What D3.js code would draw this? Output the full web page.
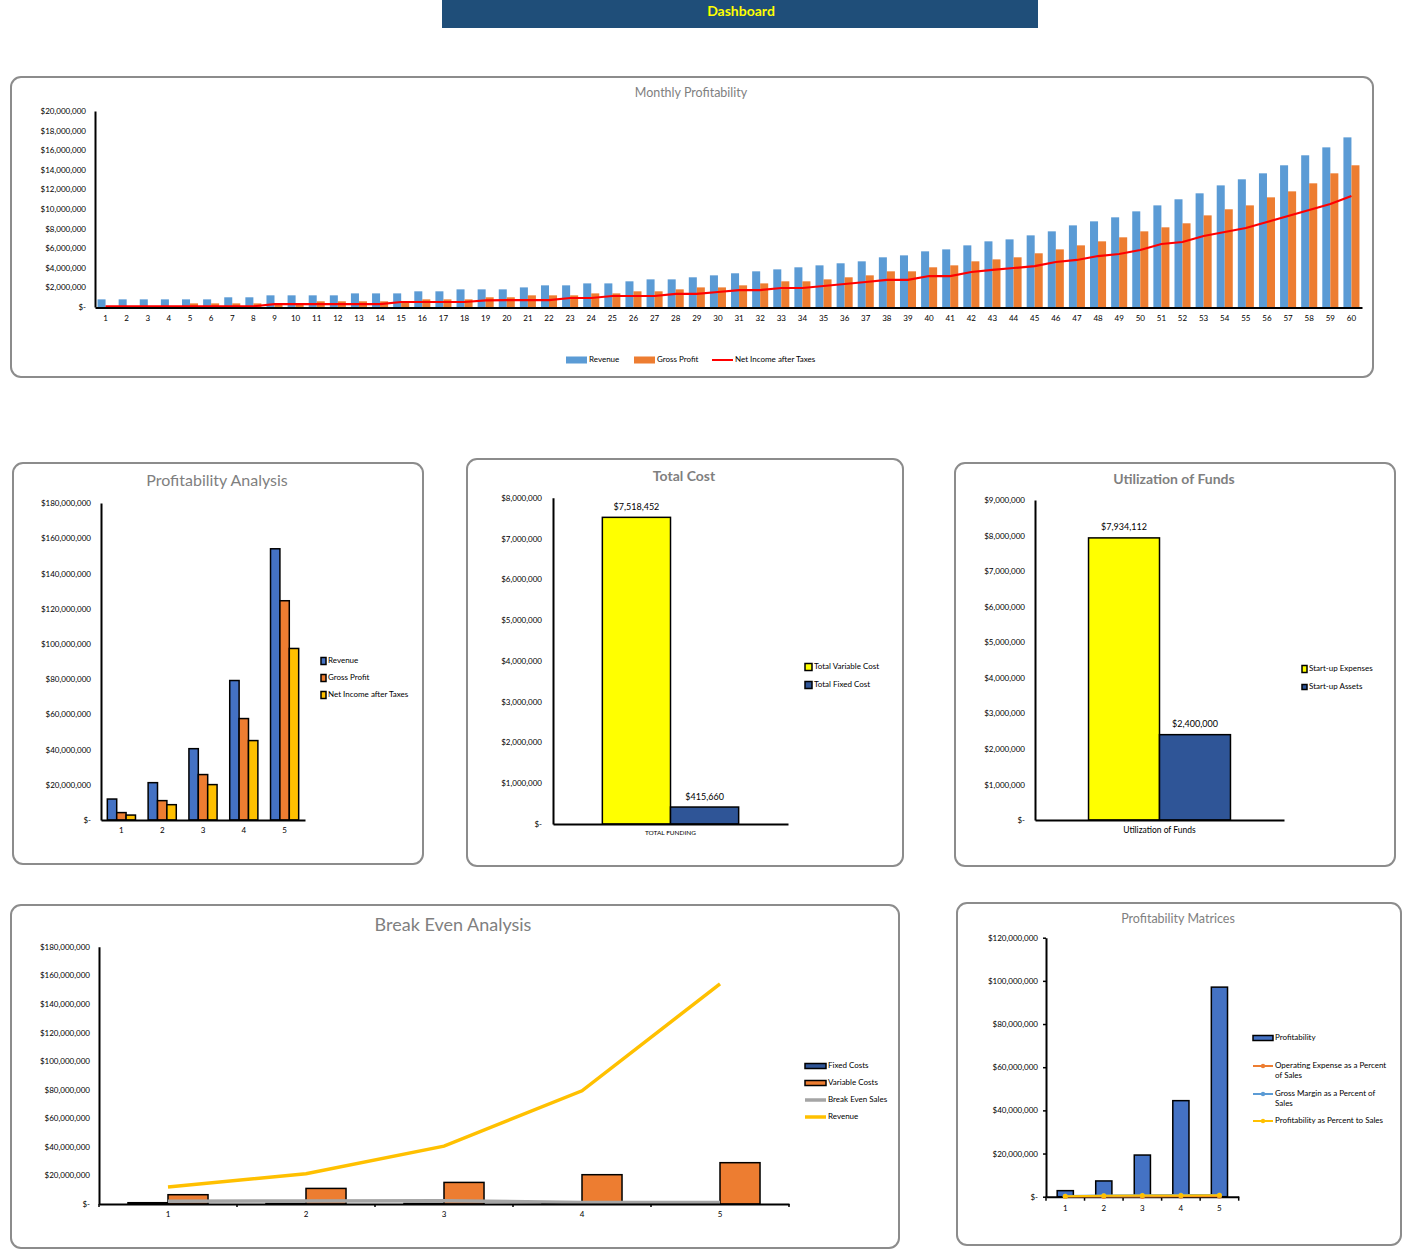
<!DOCTYPE html>
<meta charset="utf-8">
<style>
  body { margin: 0; background: #fff; }
  svg { display: block; font-family: Lato, 'Open Sans', sans-serif; }
  .panel { fill: #fff; stroke: #8c8c8c; stroke-width: 2; }
  .title { fill: #7f7f7f; text-anchor: middle; }
  .axis .domain { stroke: #000; stroke-width: 2; }
  .axis line { stroke: #000; stroke-width: 1.5; }
  .axis text { fill: #000; font-family: Lato, sans-serif; }
  .legend text { fill: #000; font-size: 8px; }
  .lbl { fill: #000; font-size: 9px; text-anchor: middle; }
</style>
<svg width="1408" height="1256"></svg>
<script src="https://d3js.org/d3.v7.min.js"></script>
<script>

// ---- data (money in $ millions) ----
var months = d3.range(1, 61);

var monthlyRevenue = [0.78,0.78,0.78,0.78,0.78,0.78,0.99,0.99,1.19,1.19,1.19,1.19,1.39,1.39,1.39,1.6,1.6,1.8,
  1.8,1.8,2.0,2.21,2.21,2.41,2.41,2.62,2.82,2.82,3.03,3.23,3.44,3.64,3.84,4.05,4.25,4.46,4.66,5.07,5.27,5.68,
  5.88,6.29,6.70,6.90,7.31,7.72,8.33,8.74,9.15,9.76,10.37,10.99,11.6,12.41,13.03,13.64,14.46,15.48,16.29,17.31];
var monthlyGross = [0.05,0.05,0.05,0.05,0.37,0.37,0.37,0.37,0.37,0.37,0.58,0.58,0.58,0.58,0.58,0.78,0.78,0.78,
  0.99,0.99,1.19,1.19,1.19,1.39,1.39,1.6,1.6,1.8,2.0,2.0,2.21,2.41,2.62,2.62,2.82,3.03,3.23,3.64,3.64,4.05,
  4.25,4.66,4.86,5.07,5.48,5.88,6.29,6.70,7.11,7.72,8.13,8.54,9.35,9.97,10.37,11.19,11.8,12.62,13.64,14.46];
var monthlyNet = [0.07,0.07,0.07,0.07,0.07,0.07,0.07,0.07,0.3,0.3,0.3,0.3,0.3,0.3,0.51,0.51,0.51,0.51,
  0.68,0.71,0.71,0.71,0.92,0.92,1.12,1.12,1.12,1.33,1.33,1.53,1.73,1.73,1.94,1.94,2.14,2.35,2.55,2.76,2.76,3.16,
  3.16,3.57,3.78,3.98,4.18,4.59,4.80,5.20,5.41,5.82,6.43,6.63,7.25,7.65,8.06,8.67,9.29,9.9,10.51,11.33];

var years = [1, 2, 3, 4, 5];
var yearRevenue = [11.9, 21.2, 40.5, 79.2, 154.0];
var yearGross = [4.2, 11.0, 25.8, 57.6, 124.5];
var yearNet = [2.8, 8.7, 20.1, 45.1, 97.4];

var costCategory = ["TOTAL FUNDING"];
var totalVariableCost = [7.518452];
var totalFixedCost = [0.41566];

var fundsCategory = ["Utilization of Funds"];
var startupExpenses = [7.934112];
var startupAssets = [2.4];

var fixedCosts = [0.9, 0.4, 0.4, 0.4, 0.4];
var variableCosts = [6.5, 10.9, 15.1, 20.5, 28.9];
var breakEvenSales = [1.9, 2.1, 2.3, 1.1, 1.0];

var profitability = [2.8, 7.3, 19.3, 44.5, 97.1];
var opExPct = [0.11, 0.11, 0.14, 0.16, 0.18];
var grossMarginPct = [0.35, 0.52, 0.64, 0.73, 0.81];
var profitPct = [0.24, 0.41, 0.50, 0.57, 0.63];

// ---- helpers ----
var svg = d3.select("svg");
svg.append("rect").attr("width", 1408).attr("height", 1256).attr("fill", "#fff");

var money = function(m) { return m === 0 ? "$-" : "$" + d3.format(",")(Math.round(m * 1e6)); };

function panel(x, y, w, h) {
    svg.append("rect").attr("class", "panel")
        .attr("x", x).attr("y", y).attr("width", w).attr("height", h).attr("rx", 10);
}

function title(text, x, y, size, weight) {
    svg.append("text").attr("class", "title")
        .attr("x", x).attr("y", y).attr("dominant-baseline", "middle")
        .style("font-size", size + "px").style("font-weight", weight || "normal")
        .text(text);
}

function yAxis(y, x, ticks, size, pad, tick) {
    var g = svg.append("g").attr("class", "axis")
        .attr("transform", "translate(" + x + ",0)")
        .call(d3.axisLeft(y).tickValues(ticks).tickSize(tick || 0).tickSizeOuter(0)
            .tickPadding(pad).tickFormat(money));
    g.selectAll("text").style("font-size", size + "px");
    return g;
}

function xAxis(x, y, size, pad) {
    var g = svg.append("g").attr("class", "axis")
        .attr("transform", "translate(0," + y + ")")
        .call(d3.axisBottom(x).tickSize(0).tickPadding(pad));
    g.selectAll("text").style("font-size", size + "px");
    return g;
}

function boundaryTicks(x, y, len) {
    var n = x.domain().length;
    svg.append("g").selectAll("line").data(d3.range(n + 1)).enter().append("line")
        .attr("x1", function(i) { return x.range()[0] + i * x.step(); })
        .attr("x2", function(i) { return x.range()[0] + i * x.step(); })
        .attr("y1", y).attr("y2", y + len)
        .attr("stroke", "#000").attr("stroke-width", 1.5);
}

function legend(items, x, size) {
    var g = svg.append("g").attr("class", "legend");
    items.forEach(function(it) {
        if (it.type === "rect") {
            g.append("rect").attr("x", x).attr("y", it.y - it.h / 2)
                .attr("width", it.w).attr("height", it.h)
                .attr("fill", it.color).attr("stroke", it.stroke || "none").attr("stroke-width", 1.5);
        } else {
            g.append("line").attr("x1", x).attr("x2", x + it.w).attr("y1", it.y).attr("y2", it.y)
                .attr("stroke", it.color).attr("stroke-width", it.sw || 2);
            if (it.marker) {
                g.append("circle").attr("cx", x + it.w / 2).attr("cy", it.y).attr("r", 2.2).attr("fill", it.color);
            }
        }
        var t = g.append("text").attr("x", x + it.w + 2).attr("y", it.y)
            .attr("dominant-baseline", "middle").style("font-size", size + "px");
        it.text.forEach(function(line, i) {
            t.append("tspan").attr("x", x + it.w + 2).attr("dy", i === 0 ? 0 : "1.25em").text(line);
        });
    });
}

// ---- header ----
svg.append("rect").attr("x", 442).attr("y", 0).attr("width", 596).attr("height", 28).attr("fill", "#1F4E79");
svg.append("text").attr("x", 741).attr("y", 12).attr("text-anchor", "middle").attr("dominant-baseline", "middle")
    .style("font-size", "14px").style("font-weight", "bold").attr("fill", "#FFFF00").text("Dashboard");

// ---- Monthly Profitability ----
(function() {
    panel(11, 77, 1362, 300);
    title("Monthly Profitability", 691, 94, 12.5);

    var x = d3.scaleBand().domain(months).range([95, 1362]);
    var y = d3.scaleLinear().domain([0, 20]).range([307, 111]);
    var gw = x.bandwidth() * 0.76;
    var x1 = d3.scaleBand().domain(["rev", "gp"]).range([-gw / 2, gw / 2]);

    var rows = months.map(function(m, i) {
        return { m: m, rev: monthlyRevenue[i], gp: monthlyGross[i], net: monthlyNet[i] };
    });
    var colors = { rev: "#5B9BD5", gp: "#ED7D31" };

    ["rev", "gp"].forEach(function(k) {
        svg.append("g").selectAll("rect").data(rows).enter().append("rect")
            .attr("x", function(d) { return x(d.m) + x.bandwidth() / 2 + x1(k); })
            .attr("width", x1.bandwidth())
            .attr("y", function(d) { return y(d[k]); })
            .attr("height", function(d) { return y(0) - y(d[k]); })
            .attr("fill", colors[k]);
    });

    svg.append("path").datum(rows)
        .attr("fill", "none").attr("stroke", "#FF0000").attr("stroke-width", 2.2)
        .attr("d", d3.line().x(function(d) { return x(d.m) + x.bandwidth() / 2; })
            .y(function(d) { return y(d.net); }));

    yAxis(y, 95, d3.range(0, 21, 2), 8, 9);
    xAxis(x, 307.5, 8, 8);

    legend([
        { type: "rect", y: 360, w: 21, h: 7, color: "#5B9BD5", text: ["Revenue"] }
    ], 566, 8);
    legend([
        { type: "rect", y: 360, w: 21, h: 7, color: "#ED7D31", text: ["Gross Profit"] }
    ], 634, 8);
    legend([
        { type: "line", y: 360, w: 21, color: "#FF0000", text: ["Net Income after Taxes"] }
    ], 712, 8);
})();

// ---- Profitability Analysis ----
(function() {
    panel(13, 463, 410, 401);
    title("Profitability Analysis", 217, 482, 16);

    var x = d3.scaleBand().domain(years).range([101, 305]);
    var y = d3.scaleLinear().domain([0, 180]).range([820, 503]);
    var keys = ["rev", "gp", "net"];
    var gw = x.bandwidth() * 0.69;
    var x1 = d3.scaleBand().domain(keys).range([-gw / 2, gw / 2]);
    var colors = { rev: "#4472C4", gp: "#ED7D31", net: "#FFC000" };
    var rows = years.map(function(yr, i) {
        return { yr: yr, rev: yearRevenue[i], gp: yearGross[i], net: yearNet[i] };
    });

    keys.forEach(function(k) {
        svg.append("g").selectAll("rect").data(rows).enter().append("rect")
            .attr("x", function(d) { return x(d.yr) + x.bandwidth() / 2 + x1(k); })
            .attr("width", x1.bandwidth())
            .attr("y", function(d) { return y(d[k]); })
            .attr("height", function(d) { return y(0) - y(d[k]); })
            .attr("fill", colors[k]).attr("stroke", "#000").attr("stroke-width", 1.5);
    });

    yAxis(y, 101, d3.range(0, 181, 20), 8, 10);
    xAxis(x, 820, 8, 7);

    legend([
        { type: "rect", y: 661, w: 5, h: 7, color: "#4472C4", stroke: "#000", text: ["Revenue"] },
        { type: "rect", y: 678, w: 5, h: 7, color: "#ED7D31", stroke: "#000", text: ["Gross Profit"] },
        { type: "rect", y: 695, w: 5, h: 7, color: "#FFC000", stroke: "#000", text: ["Net Income after Taxes"] }
    ], 321, 8);
})();

// ---- Total Cost ----
(function() {
    panel(467, 459, 436, 407);
    title("Total Cost", 684, 477, 14, "bold");

    var x = d3.scaleBand().domain(costCategory).range([553, 788]);
    var y = d3.scaleLinear().domain([0, 8]).range([824, 497.7]);
    var gw = x.bandwidth() * 0.58;
    var x1 = d3.scaleBand().domain(["var", "fix"]).range([-gw / 2, gw / 2]);
    var series = [
        { k: "var", vals: totalVariableCost, color: "#FFFF00" },
        { k: "fix", vals: totalFixedCost, color: "#2F5597" }
    ];
    series.forEach(function(s) {
        var g = svg.append("g");
        g.selectAll("rect").data(costCategory).enter().append("rect")
            .attr("x", function(c) { return x(c) + x.bandwidth() / 2 + x1(s.k); })
            .attr("width", x1.bandwidth())
            .attr("y", function(c, i) { return y(s.vals[i]); })
            .attr("height", function(c, i) { return y(0) - y(s.vals[i]); })
            .attr("fill", s.color).attr("stroke", "#000").attr("stroke-width", 1.5);
        g.selectAll("text").data(costCategory).enter().append("text").attr("class", "lbl")
            .attr("x", function(c) { return x(c) + x.bandwidth() / 2 + x1(s.k) + x1.bandwidth() / 2; })
            .attr("y", function(c, i) { return y(s.vals[i]) - 7; })
            .text(function(c, i) { return money(s.vals[i]); });
    });

    yAxis(y, 553, d3.range(0, 9, 1), 8, 11);
    xAxis(x, 824, 6.5, 6);

    legend([
        { type: "rect", y: 667, w: 7, h: 7, color: "#FFFF00", stroke: "#000", text: ["Total Variable Cost"] },
        { type: "rect", y: 685, w: 7, h: 7, color: "#2F5597", stroke: "#000", text: ["Total Fixed Cost"] }
    ], 805, 8);
})();

// ---- Utilization of Funds ----
(function() {
    panel(955, 463, 440, 403);
    title("Utilization of Funds", 1174, 480, 14, "bold");

    var x = d3.scaleBand().domain(fundsCategory).range([1035, 1284]);
    var y = d3.scaleLinear().domain([0, 9]).range([820, 500]);
    var gw = x.bandwidth() * 0.57;
    var x1 = d3.scaleBand().domain(["exp", "ast"]).range([-gw / 2, gw / 2]);
    var series = [
        { k: "exp", vals: startupExpenses, color: "#FFFF00" },
        { k: "ast", vals: startupAssets, color: "#2F5597" }
    ];
    series.forEach(function(s) {
        var g = svg.append("g");
        g.selectAll("rect").data(fundsCategory).enter().append("rect")
            .attr("x", function(c) { return x(c) + x.bandwidth() / 2 + x1(s.k); })
            .attr("width", x1.bandwidth())
            .attr("y", function(c, i) { return y(s.vals[i]); })
            .attr("height", function(c, i) { return y(0) - y(s.vals[i]); })
            .attr("fill", s.color).attr("stroke", "#000").attr("stroke-width", 1.5);
        g.selectAll("text").data(fundsCategory).enter().append("text").attr("class", "lbl")
            .attr("x", function(c) { return x(c) + x.bandwidth() / 2 + x1(s.k) + x1.bandwidth() / 2; })
            .attr("y", function(c, i) { return y(s.vals[i]) - 8; })
            .text(function(c, i) { return money(s.vals[i]); });
    });

    yAxis(y, 1035, d3.range(0, 10, 1), 8, 10);
    xAxis(x, 820, 8.5, 7);

    legend([
        { type: "rect", y: 669, w: 5, h: 7, color: "#FFFF00", stroke: "#000", text: ["Start-up Expenses"] },
        { type: "rect", y: 687, w: 5, h: 5, color: "#2F5597", stroke: "#000", text: ["Start-up Assets"] }
    ], 1302, 8);
})();

// ---- Break Even Analysis ----
(function() {
    panel(11, 905, 888, 343);
    title("Break Even Analysis", 453, 926, 18);

    var x = d3.scaleBand().domain(years).range([99, 789]);
    var y = d3.scaleLinear().domain([0, 180]).range([1204, 946.7]);
    var gw = x.bandwidth() * 0.58;
    var x1 = d3.scaleBand().domain(["fix", "var"]).range([-gw / 2, gw / 2]);
    var rows = years.map(function(yr, i) {
        return { yr: yr, fix: fixedCosts[i], "var": variableCosts[i], be: breakEvenSales[i], rev: yearRevenue[i] };
    });
    var colors = { fix: "#2F5597", "var": "#ED7D31" };

    ["fix", "var"].forEach(function(k) {
        svg.append("g").selectAll("rect").data(rows).enter().append("rect")
            .attr("x", function(d) { return x(d.yr) + x.bandwidth() / 2 + x1(k); })
            .attr("width", x1.bandwidth())
            .attr("y", function(d) { return y(d[k]); })
            .attr("height", function(d) { return y(0) - y(d[k]); })
            .attr("fill", colors[k]).attr("stroke", "#000").attr("stroke-width", 1.5);
    });

    var cx = function(d) { return x(d.yr) + x.bandwidth() / 2; };
    [{ k: "be", color: "#A5A5A5" }, { k: "rev", color: "#FFC000" }].forEach(function(s) {
        svg.append("path").datum(rows)
            .attr("fill", "none").attr("stroke", s.color).attr("stroke-width", 3.5)
            .attr("d", d3.line().x(cx).y(function(d) { return y(d[s.k]); }));
    });

    yAxis(y, 99, d3.range(0, 181, 20), 8, 9);
    xAxis(x, 1204, 8, 7);
    boundaryTicks(x, 1204, 3);

    legend([
        { type: "rect", y: 1066, w: 21, h: 5, color: "#2F5597", stroke: "#000", text: ["Fixed Costs"] },
        { type: "rect", y: 1083, w: 21, h: 5, color: "#ED7D31", stroke: "#000", text: ["Variable Costs"] },
        { type: "line", y: 1100, w: 21, sw: 3.5, color: "#A5A5A5", text: ["Break Even Sales"] },
        { type: "line", y: 1117, w: 21, sw: 3.5, color: "#FFC000", text: ["Revenue"] }
    ], 805, 8);
})();

// ---- Profitability Matrices ----
(function() {
    panel(957, 903, 444, 342);
    title("Profitability Matrices", 1178, 920, 12.5);

    var x = d3.scaleBand().domain(years).range([1046, 1238.7]);
    var y = d3.scaleLinear().domain([0, 120]).range([1196.7, 937.7]);
    var bw = x.bandwidth() * 0.42;
    var cx = function(yr) { return x(yr) + x.bandwidth() / 2; };

    svg.append("g").selectAll("rect").data(years).enter().append("rect")
        .attr("x", function(yr) { return cx(yr) - bw / 2; })
        .attr("width", bw)
        .attr("y", function(yr, i) { return y(profitability[i]); })
        .attr("height", function(yr, i) { return y(0) - y(profitability[i]); })
        .attr("fill", "#4472C4").attr("stroke", "#000").attr("stroke-width", 1.5);

    yAxis(y, 1046, d3.range(0, 121, 20), 8, 5, 3);
    xAxis(x, 1196.7, 8, 9);
    boundaryTicks(x, 1196.7, 4);

    [{ vals: opExPct, color: "#ED7D31" }, { vals: grossMarginPct, color: "#5B9BD5" },
     { vals: profitPct, color: "#FFC000" }].forEach(function(s) {
        var g = svg.append("g");
        g.append("path").datum(years)
            .attr("fill", "none").attr("stroke", s.color).attr("stroke-width", 2)
            .attr("d", d3.line().x(cx).y(function(yr, i) { return y(s.vals[i]); }));
        g.selectAll("circle").data(years).enter().append("circle")
            .attr("cx", cx).attr("cy", function(yr, i) { return y(s.vals[i]); })
            .attr("r", 2.5).attr("fill", s.color);
    });

    legend([
        { type: "rect", y: 1038, w: 20, h: 5, color: "#4472C4", stroke: "#000", text: ["Profitability"] },
        { type: "line", y: 1066, w: 20, color: "#ED7D31", marker: true, text: ["Operating Expense as a Percent", "of Sales"] },
        { type: "line", y: 1094, w: 20, color: "#5B9BD5", marker: true, text: ["Gross Margin as a Percent of", "Sales"] },
        { type: "line", y: 1121, w: 20, color: "#FFC000", marker: true, text: ["Profitability as Percent to Sales"] }
    ], 1253, 8);
})();

</script>
